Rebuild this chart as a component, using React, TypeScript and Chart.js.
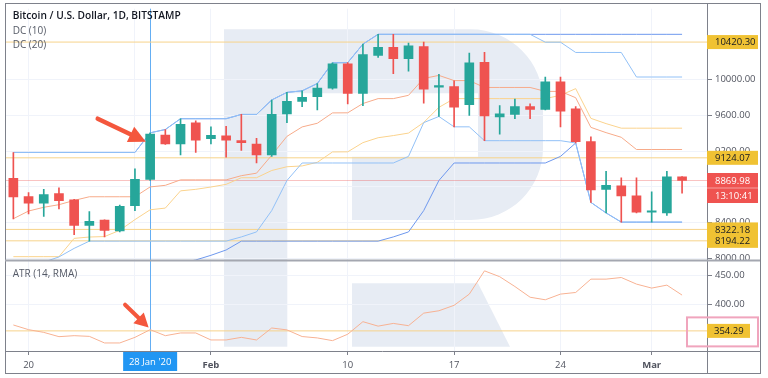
import React, { useEffect, useRef } from 'react';
import { Chart, registerables } from 'chart.js';

Chart.register(...registerables);

// ---- data (index 0 = 19 Jan 2020 ... index 44 = 3 Mar 2020) ----
const OPEN = [8893, 8691, 8617, 8724, 8654, 8368, 8426, 8305, 8588, 8882, 9378, 9279, 9515, 9338, 9371, 9316, 9279, 9157, 9617, 9757, 9808, 9904, 10176, 9846, 10271, 10360, 10235, 10371, 9915, 9923, 9720, 10194, 9581, 9610, 9698, 9665, 9974, 9672, 9305, 8771, 8809, 8698, 8514, 8507, 8911];
const HIGH = [9184, 8735, 8771, 8787, 8660, 8522, 8430, 8595, 9000, 9404, 9441, 9562, 9537, 9470, 9477, 9610, 9342, 9772, 9857, 9874, 9956, 10188, 10190, 10397, 10507, 10507, 10408, 10419, 10058, 9985, 10298, 10304, 9709, 9783, 9728, 10029, 10029, 9698, 9360, 8974, 8900, 8900, 8743, 8974, 8915];
const LOW = [8440, 8495, 8467, 8551, 8264, 8191, 8238, 8294, 8533, 8870, 9275, 9157, 9184, 9279, 9132, 9206, 9066, 9140, 9518, 9698, 9661, 9893, 9728, 9709, 10249, 10066, 10095, 9735, 9587, 9471, 9598, 9316, 9389, 9562, 9562, 9660, 9471, 9290, 8625, 8507, 8404, 8507, 8404, 8478, 8727];
const CLOSE = [8687, 8617, 8713, 8643, 8368, 8412, 8312, 8580, 8882, 9389, 9279, 9499, 9323, 9375, 9323, 9294, 9157, 9610, 9757, 9801, 9904, 10176, 9846, 10279, 10360, 10235, 10378, 9893, 9923, 9691, 10188, 9592, 9617, 9698, 9665, 9974, 9647, 9305, 8765, 8815, 8698, 8514, 8522, 8911, 8870];

const DC10_UPPER = [9184, 9184, 9184, 9184, 9184, 9184, 9184, 9184, 9184, 9404, 9441, 9562, 9562, 9562, 9562, 9610, 9610, 9772, 9857, 9874, 9956, 10188, 10190, 10397, 10507, 10507, 10507, 10507, 10507, 10507, 10507, 10507, 10507, 10507, 10507, 10419, 10419, 10304, 10304, 10304, 10304, 10029, 10029, 10029, 10029];
const DC10_LOWER = [7700, 7872, 7956, 8014, 8110, 8191, 8191, 8191, 8191, 8191, 8191, 8191, 8191, 8191, 8191, 8238, 8294, 8533, 8870, 9066, 9066, 9066, 9066, 9066, 9066, 9066, 9140, 9518, 9587, 9471, 9471, 9316, 9316, 9316, 9316, 9316, 9316, 9290, 8625, 8507, 8404, 8404, 8404, 8404, 8404];
const DC10_BASIS = [8442, 8528, 8570, 8599, 8647, 8688, 8688, 8688, 8688, 8798, 8816, 8877, 8877, 8877, 8877, 8924, 8952, 9153, 9364, 9470, 9511, 9627, 9628, 9732, 9787, 9787, 9824, 10013, 10047, 9989, 9989, 9912, 9912, 9912, 9912, 9868, 9868, 9797, 9465, 9406, 9354, 9217, 9217, 9217, 9217];
const DC20_UPPER = [9184, 9184, 9184, 9184, 9184, 9184, 9184, 9184, 9184, 9404, 9441, 9562, 9562, 9562, 9562, 9610, 9610, 9772, 9857, 9874, 9956, 10188, 10190, 10397, 10507, 10507, 10507, 10507, 10507, 10507, 10507, 10507, 10507, 10507, 10507, 10507, 10507, 10507, 10507, 10507, 10507, 10507, 10507, 10507, 10507];
const DC20_LOWER = [6850, 6850, 6850, 6850, 7260, 7290, 7300, 7440, 7680, 7680, 7680, 7946, 7980, 8032, 8092, 8191, 8191, 8191, 8191, 8191, 8191, 8191, 8191, 8191, 8191, 8238, 8294, 8533, 8870, 9066, 9066, 9066, 9066, 9066, 9066, 9066, 9140, 9290, 8625, 8507, 8404, 8404, 8404, 8404, 8404];
const DC20_BASIS = [8017, 8017, 8017, 8017, 8222, 8237, 8242, 8312, 8432, 8542, 8561, 8754, 8771, 8797, 8827, 8901, 8901, 8982, 9024, 9033, 9074, 9190, 9191, 9294, 9349, 9373, 9401, 9520, 9689, 9787, 9787, 9787, 9787, 9787, 9787, 9787, 9824, 9899, 9566, 9507, 9456, 9456, 9456, 9456, 9456];

const ATR_VALUES = [364.5, 356.4, 351.7, 344.3, 346, 344.8, 333.4, 333.4, 343.1, 356.4, 346, 350.7, 350.7, 338.6, 338.6, 343.1, 338.6, 359.3, 356, 344.5, 342.1, 337.4, 348.5, 370.2, 362.5, 367.2, 363.3, 385, 389.1, 398.5, 417.9, 458.1, 448, 431, 412.5, 408.1, 417.9, 420.7, 443.8, 443.8, 446.6, 435.2, 428.3, 433.4, 416.2];

const H_LEVELS = [10420.3, 9124.07, 8322.18, 8194.22];
const LAST_PRICE = 8869.98;
const COUNTDOWN = '13:10:41';
const ATR_LEVEL = 354.29;

const PRICE_TICKS = [8000, 8400, 8800, 9200, 9600, 10000];
const ATR_TICKS = [400, 450];
const X_TICK_POS = [1, 8, 13, 22, 29, 36, 42];
const X_TICK_LABELS = ['20', '27', 'Feb', '10', '17', '24', 'Mar'];
const CROSSHAIR_POS = 9;
const CROSSHAIR_LABEL = "28 Jan '20";

const TITLE = 'Bitcoin / U.S. Dollar, 1D, BITSTAMP';
const LEGEND_LINES = ['DC (10)', 'DC (20)'];
const ATR_TITLE = 'ATR (14, RMA)';

// annotation arrows in data coordinates
const ARROW_PRICE = { x0: 5.55, y0: 9562, x1: 8.72, y1: 9305 };
const ARROW_ATR = { x0: 7.35, y0: 399.5, x1: 8.9, y1: 360 };

// ---- styles ----
const FONT = '"Open Sans", "Liberation Sans", sans-serif';
const UP = '#26a69a';
const DOWN = '#ef5350';
const DC10_BAND = '#92c1f7';
const DC20_BAND = '#6e98ee';
const DC10_MID = '#f7ab8a';
const DC20_MID = '#fbd38d';
const LEVEL_COLOR = '#f7d38a';
const ATR_COLOR = '#f8b293';
const GRID = '#f0f3fa';
const FRAME = '#7e818b';
const TEXT = '#50535e';
const YELLOW_BOX = '#f0c233';
const ARROW_COLOR = '#f4573d';

function drawArrow(ctx: CanvasRenderingContext2D, x0: number, y0: number, x1: number, y1: number, head: number, headW: number, shaft: number) {
  const a = Math.atan2(y1 - y0, x1 - x0);
  const bx = x1 - head * Math.cos(a);
  const by = y1 - head * Math.sin(a);
  ctx.strokeStyle = ARROW_COLOR;
  ctx.fillStyle = ARROW_COLOR;
  ctx.lineWidth = shaft;
  ctx.lineCap = 'round';
  ctx.beginPath();
  ctx.moveTo(x0, y0);
  ctx.lineTo(bx + Math.cos(a), by + Math.sin(a));
  ctx.stroke();
  ctx.beginPath();
  ctx.moveTo(x1, y1);
  ctx.lineTo(bx + (headW / 2) * Math.sin(a), by - (headW / 2) * Math.cos(a));
  ctx.lineTo(bx - (headW / 2) * Math.sin(a), by + (headW / 2) * Math.cos(a));
  ctx.closePath();
  ctx.fill();
}

const overlayPlugin = {
  id: 'overlay',
  beforeDraw(chart: any) {
    // RoboForex-like watermark
    const ctx: CanvasRenderingContext2D = chart.ctx;
    ctx.save();
    ctx.fillStyle = '#e7ecf4';
    const stemL = 224, stemR = 287.3, top = 29.3, holeTop = 93.3, holeBottom = 156.7, bowlBottom = 220;
    const innerR = 478, bowlR = 543, legL = 352, legTop = 283.3, legBottom = 346.7, legBottomR = 510;
    ctx.beginPath();
    (ctx as any).roundRect(stemL, top, bowlR - stemL, bowlBottom - top, [0, 72, 72, 0]);
    ctx.moveTo(stemR, holeTop);
    ctx.lineTo(innerR, holeTop);
    ctx.lineTo(innerR, holeBottom);
    ctx.lineTo(legL, holeBottom);
    ctx.lineTo(legL, bowlBottom);
    ctx.lineTo(stemR, bowlBottom);
    ctx.closePath();
    ctx.fill('evenodd');
    ctx.fillRect(stemL, bowlBottom - 0.5, stemR - stemL, legBottom - bowlBottom + 0.5);
    ctx.beginPath();
    ctx.moveTo(legL, legTop);
    ctx.lineTo(innerR, legTop);
    ctx.lineTo(legBottomR, legBottom);
    ctx.lineTo(legL, legBottom);
    ctx.closePath();
    ctx.fill();
    ctx.restore();
  },
  beforeDatasetsDraw(chart: any) {
    const ctx: CanvasRenderingContext2D = chart.ctx;
    const ca = chart.chartArea;
    const cx = Math.round(chart.scales.x.getPixelForValue(CROSSHAIR_POS)) + 0.5;
    ctx.save();
    ctx.strokeStyle = '#64aef3';
    ctx.lineWidth = 1;
    ctx.beginPath();
    ctx.moveTo(cx, ca.top);
    ctx.lineTo(cx, ca.bottom);
    ctx.stroke();
    ctx.restore();
  },
  beforeDatasetDraw(chart: any, args: any) {
    const ctx: CanvasRenderingContext2D = chart.ctx;
    const ys = chart.scales[args.meta.yAxisID];
    const ca = chart.chartArea;
    ctx.save();
    ctx.beginPath();
    ctx.rect(ca.left, ys.top, ca.right - ca.left, ys.bottom - ys.top);
    ctx.clip();
  },
  afterDatasetDraw(chart: any) {
    chart.ctx.restore();
  },
  afterDraw(chart: any) {
    const ctx: CanvasRenderingContext2D = chart.ctx;
    const ys = chart.scales.y;
    const as = chart.scales.y2;
    const xs = chart.scales.x;
    const ca = chart.chartArea;
    const R = 760, B = 373, AX = ca.right;
    ctx.save();

    // hide the part of the bottom price label that spills into the ATR pane
    ctx.fillStyle = '#ffffff';
    ctx.fillRect(AX + 1, ys.bottom, R - AX - 1, 5);

    // frame and axis lines
    ctx.strokeStyle = FRAME;
    ctx.lineWidth = 1;
    ctx.strokeRect(5.5, 3.5, R - 5, B - 3);
    ctx.beginPath();
    ctx.moveTo(AX + 0.5, 3);
    ctx.lineTo(AX + 0.5, B);
    ctx.moveTo(5, ca.bottom + 0.5);
    ctx.lineTo(R, ca.bottom + 0.5);
    ctx.stroke();
    ctx.strokeStyle = '#a4a7b0';
    ctx.lineWidth = 2;
    ctx.beginPath();
    ctx.moveTo(5, ys.bottom);
    ctx.lineTo(R, ys.bottom);
    ctx.stroke();

    // legends
    ctx.textBaseline = 'middle';
    ctx.textAlign = 'left';
    ctx.fillStyle = '#131722';
    ctx.font = `600 10.2px ${FONT}`;
    ctx.fillText(TITLE, 12.7, 16.5);
    ctx.fillStyle = '#555a66';
    ctx.font = `10px ${FONT}`;
    ctx.fillText(LEGEND_LINES[0], 12.7, 31.5);
    ctx.fillText(LEGEND_LINES[1], 12.7, 45);
    ctx.fillText(ATR_TITLE, 12.7, 274.5);

    // price level boxes
    ctx.font = `9.5px ${FONT}`;
    H_LEVELS.forEach((v) => {
      const y = ys.getPixelForValue(v);
      ctx.fillStyle = YELLOW_BOX;
      ctx.fillRect(AX, y - 7, 51, 14);
      ctx.fillStyle = '#131722';
      ctx.fillText(v.toFixed(2), AX + 8, y + 0.5);
    });
    const py = ys.getPixelForValue(LAST_PRICE);
    ctx.fillStyle = DOWN;
    ctx.fillRect(AX, py - 7.5, 51, 30);
    ctx.strokeStyle = 'rgba(255,255,255,0.45)';
    ctx.lineWidth = 1;
    ctx.beginPath();
    ctx.moveTo(AX, py + 7.5);
    ctx.lineTo(AX + 51, py + 7.5);
    ctx.stroke();
    ctx.fillStyle = '#ffffff';
    ctx.fillText(LAST_PRICE.toFixed(2), AX + 8, py + 0.5);
    ctx.fillText(COUNTDOWN, AX + 8, py + 15.5);

    // ATR level box + highlight
    const ay = as.getPixelForValue(ATR_LEVEL);
    ctx.fillStyle = YELLOW_BOX;
    ctx.fillRect(AX, ay - 7, 43, 14);
    ctx.fillStyle = '#131722';
    ctx.fillText(ATR_LEVEL.toFixed(2), AX + 7, ay + 0.5);
    ctx.strokeStyle = '#f0a5bd';
    ctx.lineWidth = 2;
    ctx.strokeRect(687, ay - 13.5, 71, 29);

    // crosshair time label
    const cx = xs.getPixelForValue(CROSSHAIR_POS);
    ctx.fillStyle = '#2196f3';
    ctx.fillRect(cx - 27, ca.bottom + 1, 54, 19);
    ctx.fillStyle = '#ffffff';
    ctx.textAlign = 'center';
    ctx.fillText(CROSSHAIR_LABEL, cx, ca.bottom + 11);

    // arrows
    drawArrow(ctx, xs.getPixelForValue(ARROW_PRICE.x0), ys.getPixelForValue(ARROW_PRICE.y0), xs.getPixelForValue(ARROW_PRICE.x1), ys.getPixelForValue(ARROW_PRICE.y1), 17, 17, 4.5);
    drawArrow(ctx, xs.getPixelForValue(ARROW_ATR.x0), as.getPixelForValue(ARROW_ATR.y0), xs.getPixelForValue(ARROW_ATR.x1), as.getPixelForValue(ARROW_ATR.y1), 14, 15, 4);

    ctx.restore();
  },
};

function lineSet(values: number[], color: string, axis = 'y', order = 5) {
  return {
    type: 'line' as const,
    data: values.map((v, i) => ({ x: i, y: v })),
    borderColor: color,
    borderWidth: 1,
    pointRadius: 0,
    tension: 0,
    fill: false,
    xAxisID: 'x',
    yAxisID: axis,
    order,
  };
}

function hLine(value: number, color: string, axis = 'y') {
  return {
    type: 'line' as const,
    data: [{ x: -2, y: value }, { x: 48, y: value }],
    borderColor: color,
    borderWidth: 1,
    pointRadius: 0,
    fill: false,
    xAxisID: 'x',
    yAxisID: axis,
    order: 9,
  };
}

export default function App() {
  const ref = useRef<HTMLCanvasElement>(null);

  useEffect(() => {
    const canvas = ref.current;
    if (!canvas) return;
    const idx = OPEN.map((_, i) => i);
    const colors = idx.map((i) => (CLOSE[i] >= OPEN[i] ? UP : DOWN));

    const tickFont = { family: FONT, size: 9.5 };

    const chart = new Chart(canvas, {
      type: 'bar',
      data: {
        datasets: [
          {
            type: 'bar',
            data: idx.map((i) => ({ x: i, y: [OPEN[i], CLOSE[i]] })),
            backgroundColor: colors,
            borderWidth: 0,
            barThickness: 9,
            minBarLength: 1.5,
            grouped: false,
            xAxisID: 'x',
            yAxisID: 'y',
            order: 0,
          } as any,
          {
            type: 'bar',
            data: idx.map((i) => ({ x: i, y: [LOW[i], HIGH[i]] })),
            backgroundColor: colors,
            borderWidth: 0,
            barThickness: 1,
            grouped: false,
            xAxisID: 'x',
            yAxisID: 'y',
            order: 1,
          } as any,
          lineSet(DC10_UPPER, DC10_BAND),
          lineSet(DC10_LOWER, DC10_BAND),
          lineSet(DC10_BASIS, DC10_MID),
          lineSet(DC20_UPPER, DC20_BAND),
          lineSet(DC20_LOWER, DC20_BAND),
          lineSet(DC20_BASIS, DC20_MID),
          ...H_LEVELS.map((v) => hLine(v, LEVEL_COLOR)),
          hLine(LAST_PRICE, 'rgba(239,83,80,0.35)'),
          lineSet(ATR_VALUES, ATR_COLOR, 'y2'),
          hLine(ATR_LEVEL, LEVEL_COLOR, 'y2'),
        ] as any,
      },
      options: {
        animation: false,
        responsive: false,
        maintainAspectRatio: false,
        devicePixelRatio: 1,
        events: [],
        layout: { padding: { left: 5, top: 3, right: 0, bottom: 0 } },
        plugins: { legend: { display: false }, tooltip: { enabled: false } },
        scales: {
          x: {
            type: 'linear',
            offset: false,
            min: -0.55,
            max: 45.64,
            afterBuildTicks: (s: any) => {
              s.ticks = X_TICK_POS.map((v) => ({ value: v }));
            },
            afterFit: (s: any) => {
              s.height = 27;
            },
            ticks: {
              autoSkip: false,
              maxRotation: 0,
              padding: 5,
              color: TEXT,
              callback: (_v: any, i: number) => X_TICK_LABELS[i] ?? '',
              font: (c: any) => ({
                family: FONT,
                size: 9.5,
                weight: c.tick && /^[A-Z]/.test(String(c.tick.label)) ? 'bold' : 'normal',
              }),
            },
            grid: { color: GRID, tickColor: FRAME, tickLength: 4, offset: false },
            border: { display: false },
          },
          y: {
            type: 'linear',
            position: 'right',
            stack: 'panes',
            stackWeight: 256,
            min: 7974,
            max: 10794,
            afterBuildTicks: (s: any) => {
              s.ticks = PRICE_TICKS.map((v) => ({ value: v }));
            },
            afterFit: (s: any) => {
              s.width = 61;
            },
            ticks: {
              autoSkip: false,
              padding: 3,
              color: TEXT,
              font: tickFont,
              callback: (v: any) => Number(v).toFixed(2),
            },
            grid: { color: GRID, tickColor: FRAME, tickLength: 5 },
            border: { display: false },
          },
          y2: {
            type: 'linear',
            position: 'right',
            stack: 'panes',
            stackWeight: 92,
            min: 319.5,
            max: 476,
            afterBuildTicks: (s: any) => {
              s.ticks = ATR_TICKS.map((v) => ({ value: v }));
            },
            afterFit: (s: any) => {
              s.width = 61;
            },
            ticks: {
              autoSkip: false,
              padding: 3,
              color: TEXT,
              font: tickFont,
              callback: (v: any) => Number(v).toFixed(2),
            },
            grid: { color: GRID, tickColor: FRAME, tickLength: 5 },
            border: { display: false },
          },
        } as any,
      },
      plugins: [overlayPlugin as any],
    });

    return () => chart.destroy();
  }, []);

  return (
    <div style={{ position: 'absolute', left: 0, top: 0, width: 768, height: 378, background: '#ffffff' }}>
      <canvas ref={ref} width={768} height={378} style={{ display: 'block', width: 768, height: 378 }} />
    </div>
  );
}
